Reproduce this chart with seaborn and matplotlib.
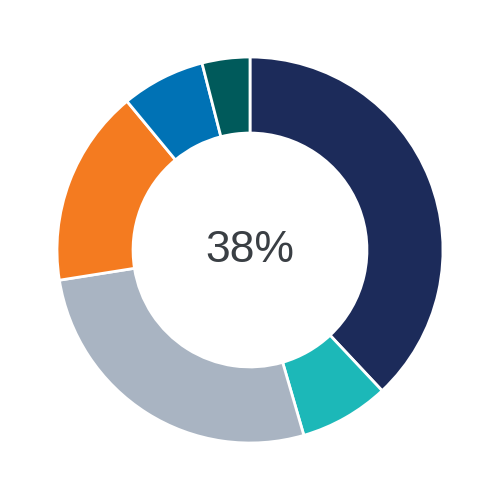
import matplotlib
matplotlib.use("Agg")
import matplotlib.pyplot as plt
import seaborn as sns

# slice shares, clockwise from 12 o'clock
labels = ["Navy", "Teal", "Gray", "Orange", "Blue", "Dark green"]
values = [38, 7.5, 27, 16.5, 7, 4]
colors = ["#1c2b5a", "#1cb8b8", "#a9b4c2", "#f47b20", "#0072b5", "#005a5b"]
center_label = "38%"

sns.set_theme(style="white")
plt.rcParams["font.family"] = ["Liberation Sans", "DejaVu Sans"]

fig = plt.figure(figsize=(5, 5), dpi=100)
ax = fig.add_axes([0, 0, 1, 1])

ax.pie(values,
       colors=colors,
       startangle=90,
       counterclock=False,
       radius=1.0,
       wedgeprops=dict(width=0.394, edgecolor="white", linewidth=2))

ax.text(0, 0, center_label, ha="center", va="center",
        fontsize=32, color="#3a3f44")

lim = 250 / 193
ax.set_xlim(-lim, lim)
ax.set_ylim(-lim, lim)
ax.set_aspect("equal")
ax.axis("off")

fig.savefig("out.png", dpi=100, facecolor="white")
